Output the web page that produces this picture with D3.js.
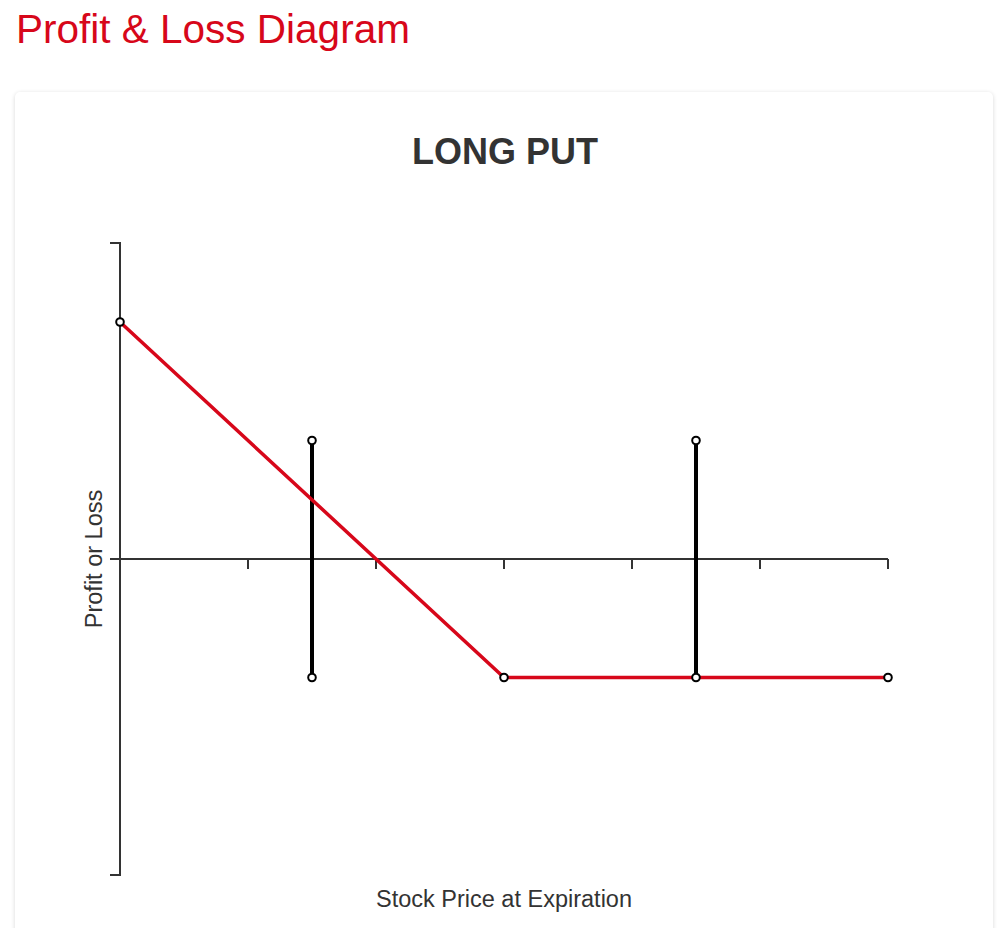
<!DOCTYPE html>
<html>
<head>
<meta charset="utf-8">
<script src="https://cdn.jsdelivr.net/npm/d3@7"></script>
<style>
  html, body { margin: 0; padding: 0; background: #fff; overflow: hidden; }
  body { width: 1006px; height: 928px; position: relative; font-family: "Liberation Sans", Arial, Helvetica, sans-serif; }
  h1 { position: absolute; left: 16px; top: 6px; margin: 0; font-size: 40.5px; font-weight: normal; color: #d7071a; line-height: 46px; }
  .card { position: absolute; left: 15px; top: 92px; width: 978px; height: 900px; background: #fff;
          border-radius: 5px; box-shadow: 0 1px 4px rgba(0,0,0,0.16); }
  #chart { position: absolute; left: 0; top: 0; }
  .axis path, .axis line { stroke: #333; stroke-width: 2px; }
</style>
</head>
<body>
<h1>Profit &amp; Loss Diagram</h1>
<div class="card"></div>
<svg id="chart" width="1006" height="928"></svg>
<script>
// payoff line of the long put
const payoffX = [0, 3, 6];
const payoffY = [6, -3, -3];
// vertical markers
const barX = [1.5, 4.5];
const barLow = [-3, -3];
const barHigh = [3, 3];
const xTicks = [1, 2, 3, 4, 5, 6];
const yTicks = [0];
const xDomain = [0, 6];
const yDomain = [-8, 8];

const red = '#d7071a';

const svg = d3.select('#chart');

const xScale = d3.scaleLinear().domain(xDomain).range([120, 888]);
const yScale = d3.scaleLinear().domain(yDomain).range([875, 243]);

// title inside the card
svg.append('text')
    .attr('x', 505)
    .attr('y', 164)
    .attr('text-anchor', 'middle')
    .style('font-size', '36px')
    .style('font-weight', 'bold')
    .style('fill', '#333')
    .text('LONG PUT');

// axes
const xAxis = d3.axisBottom(xScale)
    .tickValues(xTicks)
    .tickSize(10)
    .tickSizeOuter(0)
    .tickFormat('')
    .offset(0);

const yAxis = d3.axisLeft(yScale)
    .tickValues(yTicks)
    .tickSize(10)
    .tickSizeOuter(10)
    .tickFormat('')
    .offset(0);

svg.append('g')
    .attr('class', 'axis x-axis')
    .attr('transform', `translate(0,${yScale(0)})`)
    .call(xAxis);

svg.append('g')
    .attr('class', 'axis y-axis')
    .attr('transform', `translate(${xScale(0)},0)`)
    .call(yAxis);

// axis titles
svg.append('text')
    .attr('x', 504)
    .attr('y', 907)
    .attr('text-anchor', 'middle')
    .style('font-size', '23.5px')
    .style('fill', '#333')
    .text('Stock Price at Expiration');

svg.append('text')
    .attr('transform', `translate(102,${yScale(0)}) rotate(-90)`)
    .attr('text-anchor', 'middle')
    .style('font-size', '23.5px')
    .style('fill', '#333')
    .text('Profit or Loss');

// vertical bars
const bars = barX.map((x, i) => ({x, lo: barLow[i], hi: barHigh[i]}));

svg.selectAll('.bar')
    .data(bars)
  .join('line')
    .attr('class', 'bar')
    .attr('x1', d => xScale(d.x))
    .attr('x2', d => xScale(d.x))
    .attr('y1', d => yScale(d.lo))
    .attr('y2', d => yScale(d.hi))
    .attr('stroke', '#000')
    .attr('stroke-width', 4);

// payoff line
const pts = payoffX.map((x, i) => ({x, y: payoffY[i]}));
const line = d3.line().x(d => xScale(d.x)).y(d => yScale(d.y));

svg.append('path')
    .datum(pts)
    .attr('d', line)
    .attr('fill', 'none')
    .attr('stroke', red)
    .attr('stroke-width', 3.5);

// endpoint circles
const dots = pts.concat(bars.flatMap(d => [{x: d.x, y: d.lo}, {x: d.x, y: d.hi}]));

svg.selectAll('.dot')
    .data(dots)
  .join('circle')
    .attr('class', 'dot')
    .attr('cx', d => xScale(d.x))
    .attr('cy', d => yScale(d.y))
    .attr('r', 3.8)
    .attr('fill', '#fff')
    .attr('stroke', '#000')
    .attr('stroke-width', 2);
</script>
</body>
</html>
